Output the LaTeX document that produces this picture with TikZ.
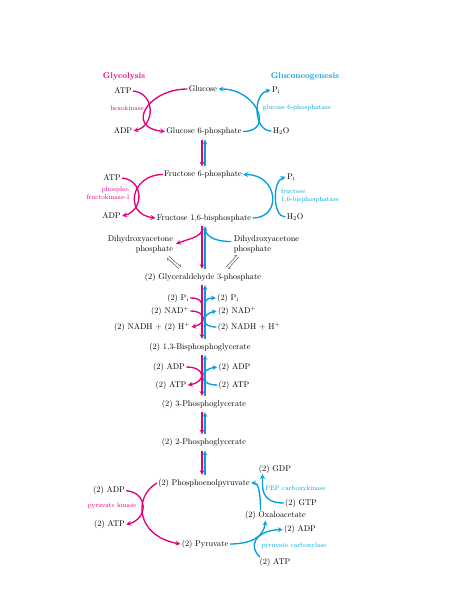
\documentclass[tikz,border=0pt]{standalone}
\usepackage{xcolor}
\usetikzlibrary{arrows.meta}

\definecolor{glyc}{RGB}{228,0,124}
\definecolor{gneo}{RGB}{0,160,222}

\tikzset{
    met/.style={inner sep=1.5pt, text height=7pt, text depth=2pt},
    enz/.style={font=\footnotesize, inner sep=0pt},
    ttl/.style={font=\bfseries},
    gly/.style={draw=glyc, line width=1.6pt},
    gng/.style={draw=gneo, line width=1.6pt},
    vert/.style={shorten <=3.5pt, shorten >=3.5pt},
    harp/.style={draw=black!75, line width=0.5pt, -{Straight Barb[harpoon, length=2.5pt, width=4pt]}}
}

\begin{document}
\begin{tikzpicture}[x=1.2pt, y=-1.2pt]
            \useasboundingbox (0, 0) rectangle (474, 613);
            \coordinate (axm) at (202, 0);
            \coordinate (axc) at (205, 0);

            \node[ttl, text=glyc] (tgly) at (124, 76) {Glycolysis};
            \node[ttl, text=gneo] (tgng) at (305, 76) {Gluconeogenesis};

            % glucose / glucose 6-phosphate
            \node[met] (glc) at (203, 89) {Glucose};
            \node[met] (atp1) at (123, 91) {ATP};
            \node[met] (pi1) at (276, 90) {P$_\mathrm{i}$};
            \node[enz, text=glyc] (hk) at (127, 108) {hexokinase};
            \node[enz, text=gneo] (gsix) at (297, 108) {glucose 6-phosphatase};
            \node[met] (adp1) at (123, 131) {ADP};
            \node[met] (g6p) at (204, 131.5) {Glucose 6-phosphate};
            \node[met] (h2o1) at (281, 131) {H$_2$O};

            \draw[gly, -stealth] (glc.west) .. controls +(-40, 0) and +(-40, -4) .. (g6p.west);
            \draw[gly, -stealth] (atp1.east) .. controls +(22, 2) and +(22, -6) .. (adp1.east);
            \draw[gng, -stealth] (g6p.east) .. controls +(32, 0) and +(38, 0) .. (glc.east);
            \draw[gng, -stealth] (h2o1.west) .. controls +(-18, 0) and +(-18, 4) .. (pi1.west);

            % fructose 6-phosphate / fructose 1,6-bisphosphate
            \node[met] (f6p) at (203, 174.5) {Fructose 6-phosphate};
            \node[met] (atp2) at (112, 178) {ATP};
            \node[met] (pi2) at (291, 177) {P$_\mathrm{i}$};
            \node[enz, text=glyc, align=right, anchor=east] (pfk) at (130, 193.5) {phospho-\\fructokinase-1};
            \node[enz, text=gneo, align=left, anchor=west] (fbpase) at (281, 195.5) {fructose\\1,6-bisphosphatase};
            \node[met] (adp2) at (111.5, 216) {ADP};
            \node[met] (fbp) at (204, 218) {Fructose 1,6-bisphosphate};
            \node[met] (h2o2) at (295, 217) {H$_2$O};

            \draw[gly, -stealth] (f6p.west) .. controls +(-32, 0) and +(-32, -4) .. (fbp.west);
            \draw[gly, -stealth] (atp2.east) .. controls +(22, 2) and +(22, -6) .. (adp2.east);
            \draw[gng, -stealth] (fbp.east) .. controls +(30, 0) and +(35, 0) .. (f6p.east);
            \draw[gng, -stealth] (h2o2.west) .. controls +(-13, 0) and +(-13, 4) .. (pi2.west);

            % triose phosphates
            \node[align=right, anchor=east] (dhapl) at (176, 244) {Dihydroxyacetone\\phosphate};
            \node[align=left, anchor=west] (dhapr) at (231, 244) {Dihydroxyacetone\\phosphate};
            \node[met] (gap) at (203, 277) {(2) Glyceraldehyde 3-phosphate};

            \coordinate (jdm) at (202, 229);
            \coordinate (jdc) at (205, 228);
            \draw[gly, -stealth] (jdm) .. controls +(0, 8) and +(12, -5) .. (dhapl.east);
            \draw[gng] ([yshift=3pt]dhapr.west) .. controls +(-20, 0) and +(0, 6) .. (jdc);

            \coordinate (hl1) at (168, 257);
            \coordinate (hl2) at (180, 268);
            \coordinate (hr1) at (238, 256);
            \coordinate (hr2) at (227, 268);
            \draw[harp] ([xshift=1.1pt, yshift=1.1pt]hl1) -- ([xshift=1.1pt, yshift=1.1pt]hl2);
            \draw[harp] ([xshift=-1.1pt, yshift=-1.1pt]hl2) -- ([xshift=-1.1pt, yshift=-1.1pt]hl1);
            \draw[harp] ([xshift=1.1pt, yshift=-1.1pt]hr1) -- ([xshift=1.1pt, yshift=-1.1pt]hr2);
            \draw[harp] ([xshift=-1.1pt, yshift=1.1pt]hr2) -- ([xshift=-1.1pt, yshift=1.1pt]hr1);

            % glyceraldehyde 3-phosphate / 1,3-bisphosphoglycerate
            \node[met] (pil) at (178, 298) {(2) P$_\mathrm{i}$};
            \node[met] (pir) at (228, 298) {(2) P$_\mathrm{i}$};
            \node[met] (nadl) at (170, 311) {(2) NAD$^+$};
            \node[met] (nadr) at (237, 311) {(2) NAD$^+$};
            \node[met] (nadhl) at (152, 327) {(2) NADH + (2) H$^+$};
            \node[met] (nadhr) at (249, 327) {(2) NADH + H$^+$};
            \node[met] (bpg) at (200, 347) {(2) 1,3-Bisphosphoglycerate};

            \coordinate (jpm) at (202, 307);
            \coordinate (jpc) at (205, 304);
            \draw[gly] (pil.east) .. controls +(10, 0) and +(0, -6) .. (jpm);
            \draw[gly, -stealth] (nadl.east) .. controls +(17, 0) and +(15, -3) .. (nadhl.east);
            \draw[gng, -stealth] (jpc) .. controls +(0, -4) and +(-8, 0) .. (pir.west);
            \draw[gng, -stealth] (nadhr.west) .. controls +(-17, 0) and +(-15, 3) .. (nadr.west);

            % 1,3-bisphosphoglycerate / 3-phosphoglycerate
            \node[met] (adpl) at (169, 367) {(2) ADP};
            \node[met] (adpr) at (234.5, 367) {(2) ADP};
            \node[met] (atpl) at (171, 385) {(2) ATP};
            \node[met] (atpr) at (234, 385) {(2) ATP};
            \node[met] (pg3) at (204, 404) {(2) 3-Phosphoglycerate};
            \node[met] (pg2) at (204, 442.5) {(2) 2-Phosphoglycerate};

            \draw[gly, -stealth] (adpl.east) .. controls +(20, 0) and +(18, -3) .. (atpl.east);
            \draw[gng, -stealth] (atpr.west) .. controls +(-19, 0) and +(-19, 3) .. (adpr.west);

            % phosphoenolpyruvate / pyruvate
            \node[met] (pep) at (204, 483) {(2) Phosphoenolpyruvate};
            \node[met] (gdp) at (275, 469) {(2) GDP};
            \node[enz, text=gneo] (pepck) at (295.5, 489) {PEP carboxykinase};
            \node[met] (gtp) at (301, 503) {(2) GTP};
            \node[met] (oaa) at (275.5, 515.5) {(2) Oxaloacetate};
            \node[met] (adp3) at (109, 490.7) {(2) ADP};
            \node[enz, text=glyc] (pk) at (112, 506) {pyruvate kinase};
            \node[met] (atp3) at (109.5, 524.5) {(2) ATP};
            \node[met] (adp4) at (300, 529.5) {(2) ADP};
            \node[enz, text=gneo] (pc) at (294, 545.7) {pyruvate carboxylase};
            \node[met] (pyr) at (205, 544) {(2) Pyruvate};
            \node[met] (atp4) at (275, 562) {(2) ATP};

            \draw[gly, -stealth] (pep.west) .. controls +(-24, 14) and +(-44, -8) .. (pyr.west);
            \draw[gly, -stealth] (adp3.east) .. controls +(22, 2) and +(22, -6) .. (atp3.east);
            \draw[gng, -stealth] (pyr.east) .. controls +(22, 0) and +(-2, 16) .. ([xshift=-12pt]oaa.south);
            \draw[gng, -stealth] ([xshift=-18pt]atp4.north) .. controls +(-12, -10) and +(-28, 1) .. (adp4.west);
            \draw[gng, -stealth] ([xshift=-18pt]oaa.north) .. controls +(0, -14) and +(8, 0) .. (pep.east);
            \draw[gng, -stealth] (gtp.west) .. controls +(-24, 0) and +(0, 12) .. ([xshift=-15pt]gdp.south);

            % main axis, down for glycolysis, up for gluconeogenesis
            \draw[gly, vert, -stealth] (g6p.south -| axm) -- (f6p.north -| axm);
            \draw[gng, vert, -stealth] (f6p.north -| axc) -- (g6p.south -| axc);
            \draw[gly, vert, -stealth] (fbp.south -| axm) -- (gap.north -| axm);
            \draw[gng, vert, -stealth] (gap.north -| axc) -- (fbp.south -| axc);
            \draw[gly, vert, -stealth] (gap.south -| axm) -- (bpg.north -| axm);
            \draw[gng, vert, -stealth] (bpg.north -| axc) -- (gap.south -| axc);
            \draw[gly, vert, -stealth] (bpg.south -| axm) -- (pg3.north -| axm);
            \draw[gng, vert, -stealth] (pg3.north -| axc) -- (bpg.south -| axc);
            \draw[gly, vert, -stealth] (pg3.south -| axm) -- (pg2.north -| axm);
            \draw[gng, vert, -stealth] (pg2.north -| axc) -- (pg3.south -| axc);
            \draw[gly, vert, -stealth] (pg2.south -| axm) -- (pep.north -| axm);
            \draw[gng, vert, -stealth] (pep.north -| axc) -- (pg2.south -| axc);
        \end{tikzpicture}
\end{document}
